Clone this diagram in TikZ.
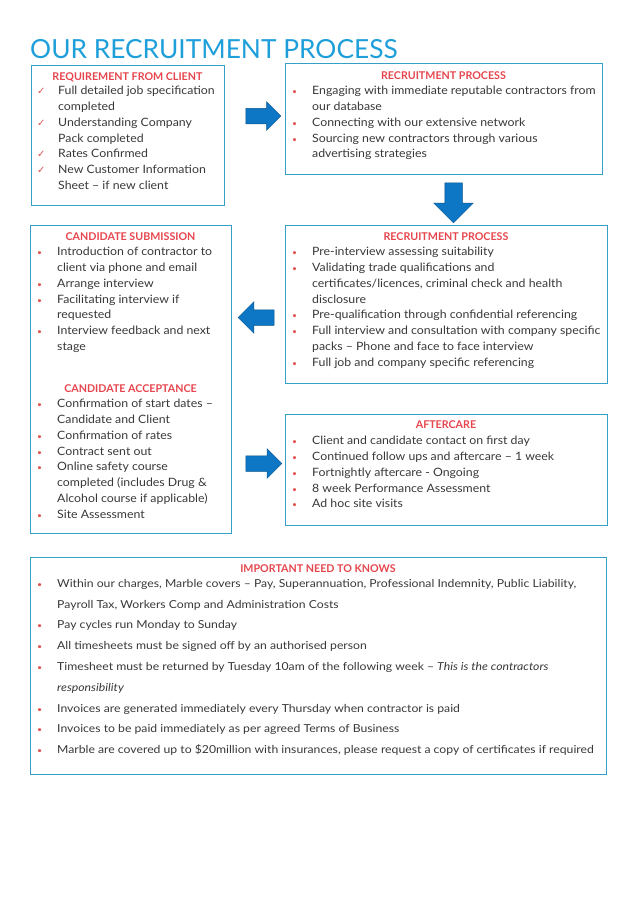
\documentclass[tikz,border=0pt]{standalone}
\usepackage{fontspec}
\setmainfont{Lato}
\newfontfamily\listfont{Lato}[FakeStretch=1.07, Ligatures=TeX]
\newfontfamily\notesfont{Lato}[FakeStretch=1.11, Ligatures=TeX]
\newfontfamily\symfont{DejaVu Sans}
\usetikzlibrary{shapes.arrows}
\definecolor{coltitle}{HTML}{1E9FDA}
\definecolor{colframe}{HTML}{35A0C6}
\definecolor{colhead}{HTML}{E6454D}
\definecolor{coldot}{HTML}{E0534F}
\definecolor{colarrow}{HTML}{0D77C5}
\definecolor{coltext}{HTML}{383838}
\newcommand{\bul}{\makebox[22pt][l]{\hspace{2pt}\textcolor{coldot}{\fontsize{8}{8}\selectfont\textbullet}}}
\newcommand{\chk}{\makebox[22pt][l]{\hspace{1pt}\textcolor{coldot}{\symfont\fontsize{10}{8}\selectfont ✓}}}
\newcommand{\ind}{\hspace*{22pt}}
\tikzset{
    title/.style={anchor=base west, inner sep=0pt, text=coltitle,
        font=\fontsize{26.3}{30}\selectfont},
    panel/.style={draw=colframe, line width=0.9pt, anchor=north west,
        inner sep=0pt},
    panel head/.style={anchor=base, inner sep=0pt, text=colhead,
        font=\fontsize{10.7}{12}\selectfont\bfseries},
    panel list/.style={anchor=north west, inner sep=0pt, align=left,
        text=coltext, font=\listfont\fontsize{11.5}{15.8}\selectfont},
    notes list/.style={panel list, font=\notesfont\fontsize{11}{20.8}\selectfont},
    block arrow/.style={single arrow, fill=colarrow, draw=colarrow!70!black,
        line width=0.5pt, single arrow head indent=0pt},
}

\begin{document}
\begin{tikzpicture}[x=1pt, y=-1pt]

\useasboundingbox (0,0) rectangle (638,903);

% ===== TITLE =====
\node[title] (title) at (30,58) {OUR RECRUITMENT PROCESS};

% ===== PANELS =====
\node[panel, minimum width=193, minimum height=140] (client) at (31,65) {};
\node[panel, minimum width=317, minimum height=111] (process) at (285,63) {};
\node[panel, minimum width=201, minimum height=308] (candidate) at (30,225) {};
\node[panel, minimum width=322, minimum height=158] (screening) at (285,225) {};
\node[panel, minimum width=322, minimum height=111] (aftercare) at (285,414) {};
\node[panel, minimum width=576, minimum height=217] (notes) at (30,557) {};

% ===== HEADINGS =====
\node[panel head] (clienthead) at (127.5,80) {REQUIREMENT FROM CLIENT};
\node[panel head] (processhead) at (443.5,79) {RECRUITMENT PROCESS};
\node[panel head] (submithead) at (130.5,240) {CANDIDATE SUBMISSION};
\node[panel head] (accepthead) at (130.5,392) {CANDIDATE ACCEPTANCE};
\node[panel head] (screenhead) at (446,240) {RECRUITMENT PROCESS};
\node[panel head] (carehead) at (446,428) {AFTERCARE};
\node[panel head] (noteshead) at (318,572) {IMPORTANT NEED TO KNOWS};

% ===== LISTS =====
\node[panel list] (clientlist) at (36,86) {%
    \chk Full detailed job specification\\
    \ind completed\\
    \chk Understanding Company\\
    \ind Pack completed\\
    \chk Rates Confirmed\\
    \chk New Customer Information\\
    \ind Sheet -- if new client};
\node[panel list] (processlist) at (290,86) {%
    \bul Engaging with immediate reputable contractors from\\
    \ind our database\\
    \bul Connecting with our extensive network\\
    \bul Sourcing new contractors through various\\
    \ind advertising strategies};
\node[panel list] (submitlist) at (35,247) {%
    \bul Introduction of contractor to\\
    \ind client via phone and email\\
    \bul Arrange interview\\
    \bul Facilitating interview if\\
    \ind requested\\
    \bul Interview feedback and next\\
    \ind stage};
\node[panel list] (acceptlist) at (35,399) {%
    \bul Confirmation of start dates --\\
    \ind Candidate and Client\\
    \bul Confirmation of rates\\
    \bul Contract sent out\\
    \bul Online safety course\\
    \ind completed (includes Drug \&\\
    \ind Alcohol course if applicable)\\
    \bul Site Assessment};
\node[panel list] (screenlist) at (290,247) {%
    \bul Pre-interview assessing suitability\\
    \bul Validating trade qualifications and\\
    \ind certificates/licences, criminal check and health\\
    \ind disclosure\\
    \bul Pre-qualification through confidential referencing\\
    \bul Full interview and consultation with company specific\\
    \ind packs -- Phone and face to face interview\\
    \bul Full job and company specific referencing};
\node[panel list] (carelist) at (290,436) {%
    \bul Client and candidate contact on first day\\
    \bul Continued follow ups and aftercare -- 1 week\\
    \bul Fortnightly aftercare - Ongoing\\
    \bul 8 week Performance Assessment\\
    \bul Ad hoc site visits};
\node[notes list] (noteslist) at (35,579) {%
    \bul Within our charges, Marble covers -- Pay, Superannuation, Professional Indemnity, Public Liability,\\
    \ind Payroll Tax, Workers Comp and Administration Costs\\
    \bul Pay cycles run Monday to Sunday\\
    \bul All timesheets must be signed off by an authorised person\\
    \bul Timesheet must be returned by Tuesday 10am of the following week -- \textit{This is the contractors}\\
    \ind \textit{responsibility}\\
    \bul Invoices are generated immediately every Thursday when contractor is paid\\
    \bul Invoices to be paid immediately as per agreed Terms of Business\\
    \bul Marble are covered up to \$20million with insurances, please request a copy of certificates if required};

% ===== ARROWS =====
\node[block arrow, minimum height=35, minimum width=28, inner sep=7.5pt,
      single arrow head extend=6.5pt] (toprocess) at (259.5,116) {};
\node[block arrow, rotate=-90, minimum height=40, minimum width=39, inner sep=8.5pt,
      single arrow head extend=11pt] (toscreen) at (453.5,198.5) {};
\node[block arrow, rotate=180, minimum height=36, minimum width=31, inner sep=7.5pt,
      single arrow head extend=8pt] (tosubmit) at (260,317.5) {};
\node[block arrow, minimum height=36, minimum width=29, inner sep=7.5pt,
      single arrow head extend=7pt] (tocare) at (260,463.5) {};

\end{tikzpicture}
\end{document}
